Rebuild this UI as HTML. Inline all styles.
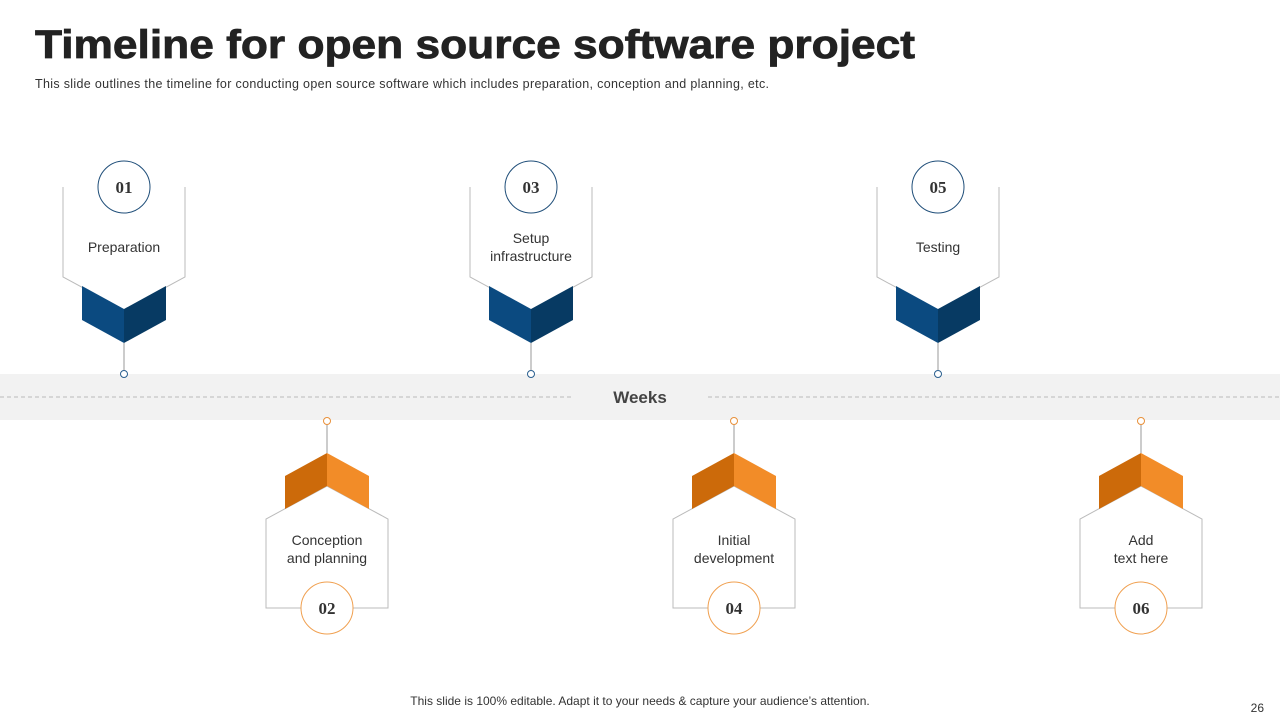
<!DOCTYPE html><html><head><style>body{margin:0;background:#fff;font-family:"Liberation Sans",sans-serif}</style></head><body>
<svg width="1280" height="720" xmlns="http://www.w3.org/2000/svg" style="display:block">
<text x="35" y="58" textLength="880" lengthAdjust="spacingAndGlyphs" font-family="Liberation Sans" font-weight="bold" font-size="40" fill="#222" stroke="#222" stroke-width="0.8">Timeline for open source software project</text>
<text x="35" y="88" textLength="734" lengthAdjust="spacing" font-family="Liberation Sans" font-size="12.5" fill="#333">This slide outlines the timeline for conducting open source software which includes preparation, conception and planning, etc.</text>
<rect x="0" y="374" width="1280" height="46" fill="#f2f2f2"/>
<line x1="0" y1="397" x2="572" y2="397" stroke="#bbb" stroke-dasharray="4,3"/>
<line x1="708" y1="397" x2="1280" y2="397" stroke="#bbb" stroke-dasharray="4,3"/>
<text x="640" y="403" text-anchor="middle" font-family="Liberation Sans" font-weight="bold" font-size="17" fill="#444">Weeks</text>
<g font-family="Liberation Sans" font-size="14" fill="#333" text-anchor="middle">
<g transform="translate(124,0)">
<path d="M-61,187V277L0,310L61,277V187" fill="#fff" stroke="#bbb"/>
<polygon points="-42,286 0,309 0,343 -42,320" fill="#0b4a80"/><polygon points="42,286 0,309 0,343 42,320" fill="#073a63"/>
<line x1="0" y1="343" x2="0" y2="370" stroke="#999"/><circle cx="0" cy="374" r="3.5" fill="#fff" stroke="#2a5f8f"/>
<circle cx="0" cy="187" r="26" fill="#fff" stroke="#1f4e79"/>
<text y="193" font-family="Liberation Serif" font-weight="bold" font-size="17">01</text>
<text y="252">Preparation</text></g>
<g transform="translate(531,0)">
<path d="M-61,187V277L0,310L61,277V187" fill="#fff" stroke="#bbb"/>
<polygon points="-42,286 0,309 0,343 -42,320" fill="#0b4a80"/><polygon points="42,286 0,309 0,343 42,320" fill="#073a63"/>
<line x1="0" y1="343" x2="0" y2="370" stroke="#999"/><circle cx="0" cy="374" r="3.5" fill="#fff" stroke="#2a5f8f"/>
<circle cx="0" cy="187" r="26" fill="#fff" stroke="#1f4e79"/>
<text y="193" font-family="Liberation Serif" font-weight="bold" font-size="17">03</text>
<text y="243">Setup</text><text y="261">infrastructure</text></g>
<g transform="translate(938,0)">
<path d="M-61,187V277L0,310L61,277V187" fill="#fff" stroke="#bbb"/>
<polygon points="-42,286 0,309 0,343 -42,320" fill="#0b4a80"/><polygon points="42,286 0,309 0,343 42,320" fill="#073a63"/>
<line x1="0" y1="343" x2="0" y2="370" stroke="#999"/><circle cx="0" cy="374" r="3.5" fill="#fff" stroke="#2a5f8f"/>
<circle cx="0" cy="187" r="26" fill="#fff" stroke="#1f4e79"/>
<text y="193" font-family="Liberation Serif" font-weight="bold" font-size="17">05</text>
<text y="252">Testing</text></g>
<g transform="translate(327,0)">
<path d="M-61,608V519L0,486L61,519V608Z" fill="#fff" stroke="#bbb"/>
<polygon points="-42,476 0,453 0,486 -42,509" fill="#cc6a0a"/><polygon points="42,476 0,453 0,486 42,509" fill="#f28c28"/>
<line x1="0" y1="425" x2="0" y2="453" stroke="#999"/><circle cx="0" cy="421" r="3.5" fill="#fff" stroke="#e8903a"/>
<circle cx="0" cy="608" r="26" fill="#fff" stroke="#f0a050"/>
<text y="614" font-family="Liberation Serif" font-weight="bold" font-size="17">02</text>
<text y="545">Conception</text><text y="563">and planning</text></g>
<g transform="translate(734,0)">
<path d="M-61,608V519L0,486L61,519V608Z" fill="#fff" stroke="#bbb"/>
<polygon points="-42,476 0,453 0,486 -42,509" fill="#cc6a0a"/><polygon points="42,476 0,453 0,486 42,509" fill="#f28c28"/>
<line x1="0" y1="425" x2="0" y2="453" stroke="#999"/><circle cx="0" cy="421" r="3.5" fill="#fff" stroke="#e8903a"/>
<circle cx="0" cy="608" r="26" fill="#fff" stroke="#f0a050"/>
<text y="614" font-family="Liberation Serif" font-weight="bold" font-size="17">04</text>
<text y="545">Initial</text><text y="563">development</text></g>
<g transform="translate(1141,0)">
<path d="M-61,608V519L0,486L61,519V608Z" fill="#fff" stroke="#bbb"/>
<polygon points="-42,476 0,453 0,486 -42,509" fill="#cc6a0a"/><polygon points="42,476 0,453 0,486 42,509" fill="#f28c28"/>
<line x1="0" y1="425" x2="0" y2="453" stroke="#999"/><circle cx="0" cy="421" r="3.5" fill="#fff" stroke="#e8903a"/>
<circle cx="0" cy="608" r="26" fill="#fff" stroke="#f0a050"/>
<text y="614" font-family="Liberation Serif" font-weight="bold" font-size="17">06</text>
<text y="545">Add</text><text y="563">text here</text></g>
</g>
<text x="640" y="705" text-anchor="middle" font-family="Liberation Sans" font-size="12" fill="#333">This slide is 100% editable. Adapt it to your needs &amp; capture your audience’s attention.</text>
<text x="1264" y="712" text-anchor="end" font-family="Liberation Sans" font-size="12" fill="#333">26</text>
</svg></body></html>
